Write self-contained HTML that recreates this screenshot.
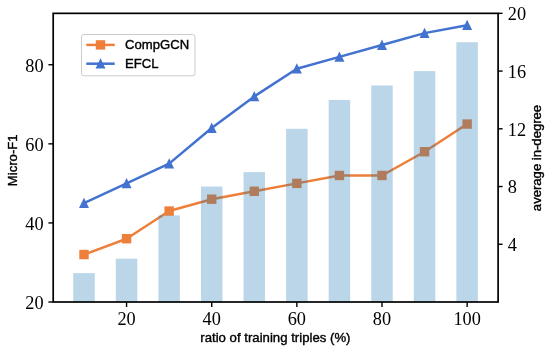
<!DOCTYPE html>
<html><head><meta charset="utf-8"><title>chart</title>
<style>
html,body{margin:0;padding:0;background:#fff;}
svg{display:block;}
.a{font-family:"Liberation Sans",sans-serif;font-size:13.1px;fill:#000;stroke:#000;stroke-width:0.38px;}
.t{font-family:"Liberation Serif",serif;font-size:18.3px;fill:#000;}
</style></head><body>

<svg width="550" height="354" viewBox="0 0 550 354">
<rect width="550" height="354" fill="#fff"/>
<polyline points="84.00,254.55 126.57,238.73 169.14,211.06 211.71,199.19 254.28,191.28 296.85,183.38 339.42,175.47 381.99,175.47 424.56,151.74 467.13,124.07" fill="none" stroke="#ee7f3a" stroke-width="2.5" stroke-linejoin="round"/>
<rect x="79.30" y="249.85" width="9.4" height="9.4" fill="#ee7f3a"/>
<rect x="121.87" y="234.03" width="9.4" height="9.4" fill="#ee7f3a"/>
<rect x="164.44" y="206.36" width="9.4" height="9.4" fill="#ee7f3a"/>
<rect x="207.01" y="194.49" width="9.4" height="9.4" fill="#ee7f3a"/>
<rect x="249.58" y="186.58" width="9.4" height="9.4" fill="#ee7f3a"/>
<rect x="292.15" y="178.68" width="9.4" height="9.4" fill="#ee7f3a"/>
<rect x="334.72" y="170.77" width="9.4" height="9.4" fill="#ee7f3a"/>
<rect x="377.29" y="170.77" width="9.4" height="9.4" fill="#ee7f3a"/>
<rect x="419.86" y="147.04" width="9.4" height="9.4" fill="#ee7f3a"/>
<rect x="462.43" y="119.37" width="9.4" height="9.4" fill="#ee7f3a"/>
<polyline points="84.00,203.15 126.57,183.38 169.14,163.61 211.71,128.02 254.28,96.39 296.85,68.71 339.42,56.85 381.99,44.98 424.56,33.12 467.13,25.21" fill="none" stroke="#4372d0" stroke-width="2.5" stroke-linejoin="round"/>
<polygon points="84.00,197.75 79.00,208.05 89.00,208.05" fill="#4372d0"/>
<polygon points="126.57,177.98 121.57,188.28 131.57,188.28" fill="#4372d0"/>
<polygon points="169.14,158.21 164.14,168.51 174.14,168.51" fill="#4372d0"/>
<polygon points="211.71,122.62 206.71,132.92 216.71,132.92" fill="#4372d0"/>
<polygon points="254.28,90.99 249.28,101.29 259.28,101.29" fill="#4372d0"/>
<polygon points="296.85,63.31 291.85,73.61 301.85,73.61" fill="#4372d0"/>
<polygon points="339.42,51.45 334.42,61.75 344.42,61.75" fill="#4372d0"/>
<polygon points="381.99,39.58 376.99,49.88 386.99,49.88" fill="#4372d0"/>
<polygon points="424.56,27.72 419.56,38.02 429.56,38.02" fill="#4372d0"/>
<polygon points="467.13,19.81 462.13,30.11 472.13,30.11" fill="#4372d0"/>
<rect x="81.5" y="34.5" width="113.5" height="41.3" rx="2.5" fill="#fff" fill-opacity="0.8" stroke="#ccc" stroke-width="1"/>
<line x1="86.3" x2="114.7" y1="44.9" y2="44.9" stroke="#ee7f3a" stroke-width="2.5"/>
<rect x="95.8" y="40.199999999999996" width="9.4" height="9.4" fill="#ee7f3a"/>
<line x1="86.3" x2="114.7" y1="63.7" y2="63.7" stroke="#4372d0" stroke-width="2.5"/>
<polygon points="100.50,58.30 95.50,68.60 105.50,68.60" fill="#4372d0"/>
<text x="125.1" y="49.4" class="a">CompGCN</text>
<text x="125.1" y="68.0" class="a">EFCL</text>
<rect x="73.25" y="273.13" width="21.5" height="28.87" fill="#1f77b4" fill-opacity="0.3"/>
<rect x="115.82" y="258.70" width="21.5" height="43.30" fill="#1f77b4" fill-opacity="0.3"/>
<rect x="158.39" y="215.41" width="21.5" height="86.59" fill="#1f77b4" fill-opacity="0.3"/>
<rect x="200.96" y="186.54" width="21.5" height="115.46" fill="#1f77b4" fill-opacity="0.3"/>
<rect x="243.53" y="172.11" width="21.5" height="129.89" fill="#1f77b4" fill-opacity="0.3"/>
<rect x="286.10" y="128.81" width="21.5" height="173.19" fill="#1f77b4" fill-opacity="0.3"/>
<rect x="328.67" y="99.95" width="21.5" height="202.05" fill="#1f77b4" fill-opacity="0.3"/>
<rect x="371.24" y="85.51" width="21.5" height="216.49" fill="#1f77b4" fill-opacity="0.3"/>
<rect x="413.81" y="71.08" width="21.5" height="230.92" fill="#1f77b4" fill-opacity="0.3"/>
<rect x="456.38" y="42.22" width="21.5" height="259.78" fill="#1f77b4" fill-opacity="0.3"/>
<rect x="53.2" y="13.35" width="444.90000000000003" height="288.65" fill="none" stroke="#000" stroke-width="1.7"/>
<line x1="48.400000000000006" x2="53.2" y1="302.00" y2="302.00" stroke="#000" stroke-width="1.4"/>
<text transform="translate(43.60,308.80) scale(1,1.06)" class="t" text-anchor="end">20</text>
<line x1="48.400000000000006" x2="53.2" y1="222.92" y2="222.92" stroke="#000" stroke-width="1.4"/>
<text transform="translate(43.60,229.72) scale(1,1.06)" class="t" text-anchor="end">40</text>
<line x1="48.400000000000006" x2="53.2" y1="143.84" y2="143.84" stroke="#000" stroke-width="1.4"/>
<text transform="translate(43.60,150.64) scale(1,1.06)" class="t" text-anchor="end">60</text>
<line x1="48.400000000000006" x2="53.2" y1="64.75" y2="64.75" stroke="#000" stroke-width="1.4"/>
<text transform="translate(43.60,71.55) scale(1,1.06)" class="t" text-anchor="end">80</text>
<line x1="498.1" x2="502.6" y1="244.27" y2="244.27" stroke="#000" stroke-width="1.4"/>
<text transform="translate(507.80,250.97) scale(1,1.06)" class="t">4</text>
<line x1="498.1" x2="502.6" y1="186.54" y2="186.54" stroke="#000" stroke-width="1.4"/>
<text transform="translate(507.80,193.24) scale(1,1.06)" class="t">8</text>
<line x1="498.1" x2="502.6" y1="128.81" y2="128.81" stroke="#000" stroke-width="1.4"/>
<text transform="translate(507.80,135.51) scale(1,1.06)" class="t">12</text>
<line x1="498.1" x2="502.6" y1="71.08" y2="71.08" stroke="#000" stroke-width="1.4"/>
<text transform="translate(507.80,77.78) scale(1,1.06)" class="t">16</text>
<line x1="498.1" x2="502.6" y1="13.35" y2="13.35" stroke="#000" stroke-width="1.4"/>
<text transform="translate(507.80,20.05) scale(1,1.06)" class="t">20</text>
<line x1="126.57" x2="126.57" y1="302.0" y2="307.0" stroke="#000" stroke-width="1.4"/>
<text transform="translate(126.57,324.9) scale(1,1.06)" class="t" text-anchor="middle">20</text>
<line x1="211.71" x2="211.71" y1="302.0" y2="307.0" stroke="#000" stroke-width="1.4"/>
<text transform="translate(211.71,324.9) scale(1,1.06)" class="t" text-anchor="middle">40</text>
<line x1="296.85" x2="296.85" y1="302.0" y2="307.0" stroke="#000" stroke-width="1.4"/>
<text transform="translate(296.85,324.9) scale(1,1.06)" class="t" text-anchor="middle">60</text>
<line x1="381.99" x2="381.99" y1="302.0" y2="307.0" stroke="#000" stroke-width="1.4"/>
<text transform="translate(381.99,324.9) scale(1,1.06)" class="t" text-anchor="middle">80</text>
<line x1="467.13" x2="467.13" y1="302.0" y2="307.0" stroke="#000" stroke-width="1.4"/>
<text transform="translate(467.13,324.9) scale(1,1.06)" class="t" text-anchor="middle">100</text>
<text x="275.4" y="341.9" class="a" style="font-size:13.2px" text-anchor="middle">ratio of training triples (%)</text>
<text transform="translate(17.3,160.3) rotate(-90)" class="a" text-anchor="middle">Micro-F1</text>
<text transform="translate(540.6,158.0) rotate(-90)" class="a" text-anchor="middle">average in-degree</text>
</svg>
</body></html>
